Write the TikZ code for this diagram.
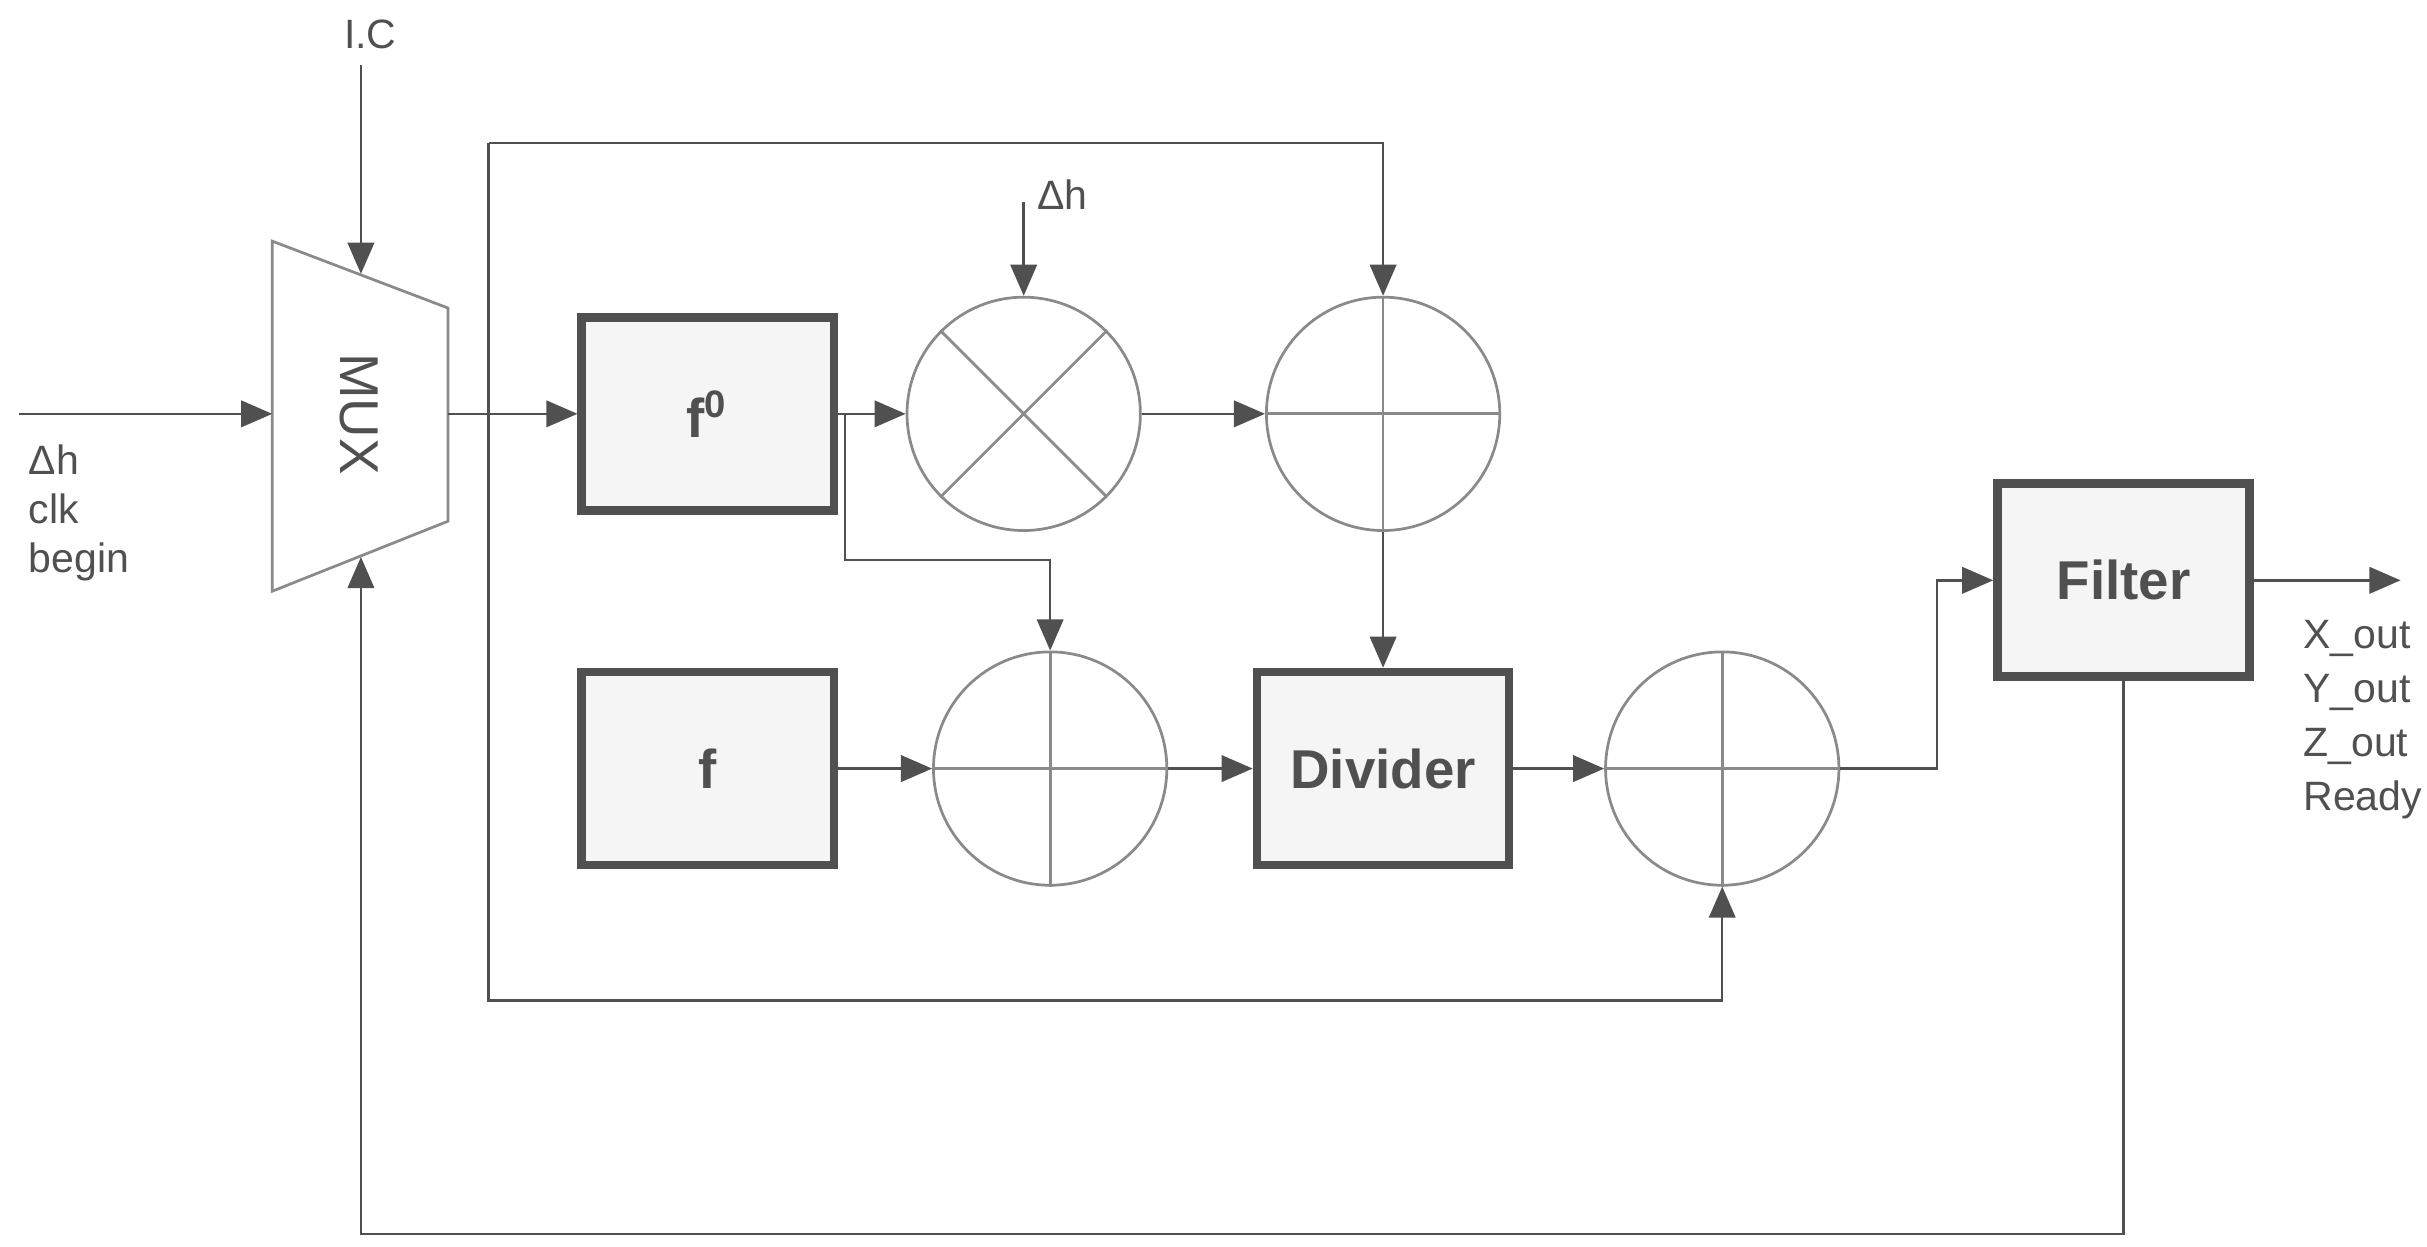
\documentclass[tikz,border=0pt]{standalone}
\usepackage{fontspec}
\setmainfont{Liberation Sans}
\usetikzlibrary{arrows.meta}
\definecolor{ln}{HTML}{505050}
\definecolor{cl}{HTML}{8A8A8A}
\begin{document}
\begin{tikzpicture}[x=0.1mm,y=-0.1mm,
  line width=0.35pt,
  arr/.style={-{Triangle[length=2mm,width=1.7mm]}, draw=ln, line width=0.45pt},
  box/.style={draw=ln, line width=1.6pt, fill=black!4, minimum width=16.2mm, minimum height=12.4mm, font=\bfseries\fontsize{10}{12}\selectfont, text=ln},
  circ/.style={circle, draw=cl, line width=0.5pt, minimum size=15mm, inner sep=0pt},
  lbl/.style={font=\fontsize{7.5}{9}\selectfont, text=ln, inner sep=0pt}]
\useasboundingbox (0,0) rectangle (1560,801);
% MUX
\draw[draw=cl, line width=0.5pt] (175,155) -- (288,198) -- (288,335) -- (175,380) -- cycle;
\node[lbl, rotate=-90, font=\fontsize{10}{12}\selectfont] (mux) at (231,266) {MUX};
\coordinate (muxin) at (175,266);
\coordinate (muxout) at (288,266);
\coordinate (muxtop) at (232,176);
\coordinate (muxbot) at (232,358);
% boxes
\node[box] (f0) at (455,266) {f$^{\mathbf 0}$};
\node[box] (f) at (455,494) {f};
\node[box] (div) at (889,494) {Divider};
\node[box] (filt) at (1365,373) {Filter};
% circles
\node[circ] (mul) at (658,266) {};
\draw[draw=cl, line width=0.5pt] (mul.45) -- (mul.225) (mul.135) -- (mul.315);
\node[circ] (a1) at (889,266) {};
\node[circ] (a2) at (675,494) {};
\node[circ] (a3) at (1107,494) {};
\foreach \c in {a1,a2,a3}{\draw[draw=cl, line width=0.5pt] (\c.north) -- (\c.south) (\c.west) -- (\c.east);}
% labels
\coordinate (inL) at (12,266);
\draw[arr] (inL) -- (muxin);
\node[lbl, anchor=north west, align=left] (inlab) at (18,285) {Δh\\clk\\begin};
\node[lbl] (ic) at (238,22) {I.C};
\draw[arr] (232,42) -- (muxtop);
\node[lbl, anchor=west] (dh) at (666,125) {Δh};
\draw[arr] (658,130) -- (mul.north);
\node[lbl, anchor=north west, align=left] (outlab) at (1480,398) {X\_out\\[0.3mm]Y\_out\\[0.3mm]Z\_out\\[0.3mm]Ready};
% connections
\draw[arr] (muxout) -- (f0.west);
\draw[arr] (f0.east) -- (mul.west);
\draw[arr] (543,266) -- (543,360) -- (675,360) -- (a2.north);
\draw[arr] (mul.east) -- (a1.west);
\draw[arr] (314,92) -- (889,92) -- (a1.north);
\draw[arr] (314,92) -- (314,643) -- (1107,643) -- (a3.south);
\draw[arr] (a1.south) -- (div.north);
\draw[arr] (f.east) -- (a2.west);
\draw[arr] (a2.east) -- (div.west);
\draw[arr] (div.east) -- (a3.west);
\draw[arr] (a3.east) -- (1245,494) -- (1245,373) -- (filt.west);
\draw[arr] (filt.east) -- (1543,373);
\draw[arr] (filt.south) -- (1365,793) -- (232,793) -- (muxbot);
\end{tikzpicture}
\end{document}
